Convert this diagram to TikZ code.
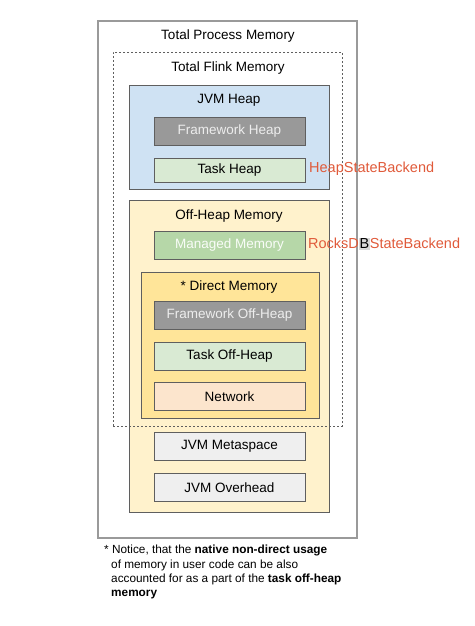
\documentclass[tikz,border=0pt]{standalone}
\usepackage{fontspec}
\setmainfont{Liberation Sans}
\usepackage{tikz}
\usetikzlibrary{positioning}
\definecolor{boxline}{HTML}{5F5F5F}
\definecolor{outerline}{HTML}{9A9A9A}
\definecolor{heapblue}{HTML}{CFE2F3}
\definecolor{offyellow}{HTML}{FFF2CC}
\definecolor{directyellow}{HTML}{FFE599}
\definecolor{fwgray}{HTML}{999999}
\definecolor{taskgreen}{HTML}{D9EAD3}
\definecolor{managedgreen}{HTML}{B6D7A8}
\definecolor{netorange}{HTML}{FCE5CD}
\definecolor{jvmgray}{HTML}{EFEFEF}
\definecolor{flinkred}{HTML}{E05A3A}
\definecolor{selgray}{HTML}{D9D9D9}

\begin{document}
\begin{tikzpicture}[x=1pt, y=-1pt,
    area/.style={draw=boxline, line width=0.8pt, inner sep=0pt},
    item/.style={draw=boxline, line width=0.8pt, minimum width=151pt,
                 minimum height=28pt, inner sep=0pt,
                 font=\fontsize{13.5}{16}\selectfont},
    title/.style={font=\fontsize{13.5}{16}\selectfont},
    backend/.style={anchor=west, inner sep=0pt, text=flinkred,
                    font=\fontsize{14.5}{17}\selectfont}
  ]
    \useasboundingbox (0,0) rectangle (474,626);
    % outer frame
    \node[draw=outerline, line width=1.2pt, minimum width=259pt,
          minimum height=517pt] (process) at (227.5, 279.5) {};
    \node[title] (processT) at (228, 36) {Total Process Memory};
    \node[title] (flinkT) at (228, 68) {Total Flink Memory};

    % heap
    \node[area, fill=heapblue, minimum width=200pt, minimum height=104pt]
      (heap) at (229, 137) {};
    \node[title] (heapT) at (229, 100) {JVM Heap};
    \node[item, fill=fwgray, text=white!93!black] (fwheap) at (229.5, 131)
      {Framework Heap};
    \node[item, fill=taskgreen, minimum height=24pt] (taskheap) at (229.5, 170)
      {Task Heap};

    % off-heap
    \node[area, fill=offyellow, minimum width=200pt, minimum height=312pt]
      (offheap) at (229, 356) {};
    \node[title] (offheapT) at (229, 216) {Off-Heap Memory};
    \node[item, fill=managedgreen, text=white!92!managedgreen] (managed)
      at (229.5, 245) {Managed Memory};
    \node[area, fill=directyellow, minimum width=178pt, minimum height=146pt]
      (direct) at (230, 345) {};
    \node[title] (directT) at (229, 287) {* Direct Memory};
    \node[item, fill=fwgray, text=white!93!black] (fwoff) at (229.5, 315)
      {Framework Off-Heap};
    \node[item, fill=taskgreen] (taskoff) at (229.5, 356.5) {Task Off-Heap};
    \node[item, fill=netorange] (network) at (229.5, 396.5) {Network};
    \node[item, fill=jvmgray] (meta) at (229.5, 446) {JVM Metaspace};
    \node[item, fill=jvmgray] (overhead) at (229.5, 487.5) {JVM Overhead};

    % flink frame, drawn over the fills
    \node[draw=boxline, line width=0.8pt, dash pattern=on 2pt off 2pt,
          minimum width=229pt, minimum height=374pt] (flink) at (227.5, 239) {};

    % state backends
    \node[backend] (heapSB) at (309, 169) {HeapStateBackend};
    \node[backend] (rocksSB) at (308, 244)
      {RocksD{\setlength\fboxsep{0.6pt}\colorbox{selgray}{\textcolor{black}{B}}}StateBackend};

    % footnote
    \node[anchor=north west, align=left, inner sep=0pt,
          font=\fontsize{11.8}{14.3}\selectfont] (note) at (104, 545)
      {* Notice, that the \textbf{native non-direct usage}\\
       \hspace{7pt}of memory in user code can be also\\
       \hspace{7pt}accounted for as a part of the \textbf{task off-heap}\\
       \hspace{7pt}\textbf{memory}};
\end{tikzpicture}
\end{document}
